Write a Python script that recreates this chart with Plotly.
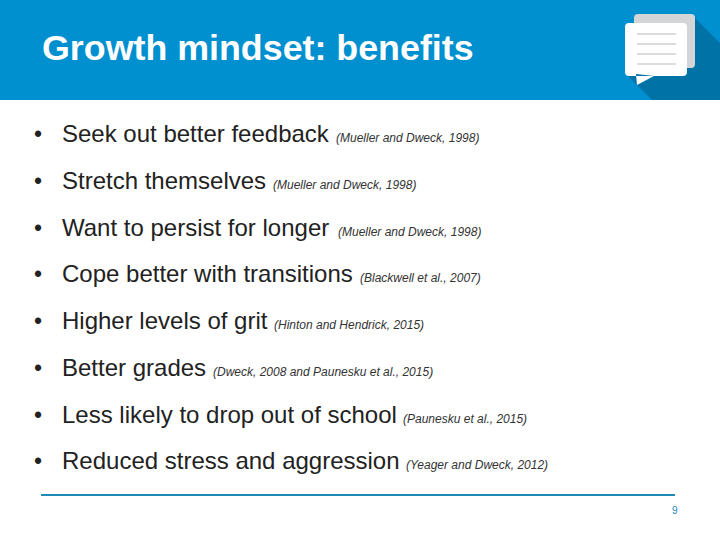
import plotly.graph_objects as go

TITLE = "Growth mindset: benefits"
BULLETS = ["Seek out better feedback", "Stretch themselves", "Want to persist for longer",
           "Cope better with transitions", "Higher levels of grit", "Better grades",
           "Less likely to drop out of school", "Reduced stress and aggression"]
CITES = ["(Mueller and Dweck, 1998)", "(Mueller and Dweck, 1998)", "(Mueller and Dweck, 1998)",
         "(Blackwell et al., 2007)", "(Hinton and Hendrick, 2015)", "(Dweck, 2008 and Paunesku et al., 2015)",
         "(Paunesku et al., 2015)", "(Yeager and Dweck, 2012)"]
CITE_X = [336, 273, 338, 360, 274, 213, 403, 406]
ROW_Y = [133, 180, 227, 273, 320, 367, 414, 460]
PAGE = "9"

FONT = "Liberation Sans, Arial, sans-serif"
fig = go.Figure()
xa = dict(range=[0, 720], visible=False, fixedrange=True)
ya = dict(range=[540, 0], visible=False, fixedrange=True)


def rrect(x0, y0, x1, y1, r):
    return (f"M{x0+r},{y0} L{x1-r},{y0} Q{x1},{y0} {x1},{y0+r} L{x1},{y1-r} Q{x1},{y1} {x1-r},{y1} "
            f"L{x0+r},{y1} Q{x0},{y1} {x0},{y1-r} L{x0},{y0+r} Q{x0},{y0} {x0+r},{y0} Z")


shapes = [
    dict(type="rect", x0=0, y0=0, x1=720, y1=100, fillcolor="#0090D0", line_width=0),
    dict(type="path", path="M692,15 L720,43 L720,100 L652,100 L627,75 Z", fillcolor="#0072A6", line_width=0),
    dict(type="path", path=rrect(634, 14, 695, 68, 4), fillcolor="#D4D5D7", line_width=0),
    dict(type="path", path=rrect(625, 23, 687, 76, 4) + " M636,74 L637,85 L654,76 Z", fillcolor="#FFFFFF", line_width=0),
    dict(type="line", x0=41, x1=675, y0=495, y1=495, line=dict(color="#2089B8", width=2)),
]
for y in (34, 44, 54, 64):
    shapes.append(dict(type="line", x0=637, x1=676, y0=y, y1=y, line=dict(color="#CFD0D2", width=1.5)))

ann = [dict(x=42, y=48, text=f"<b>{TITLE}</b>", xanchor="left", yanchor="middle", showarrow=False,
            font=dict(family=FONT, size=35.8, color="#FFFFFF"))]
for b, c, cx, y in zip(BULLETS, CITES, CITE_X, ROW_Y):
    ann.append(dict(x=34, y=y + 1, text="•", xanchor="left", yanchor="middle", showarrow=False,
                    font=dict(family=FONT, size=23, color="#222222")))
    ann.append(dict(x=62, y=y, text=b, xanchor="left", yanchor="middle", showarrow=False,
                    font=dict(family=FONT, size=24, color="#222222")))
    ann.append(dict(x=cx, y=y + 4.5, text=f"<i>{c}</i>", xanchor="left", yanchor="middle", showarrow=False,
                    font=dict(family=FONT, size=12, color="#333333")))
ann.append(dict(x=675, y=510, text=PAGE, xanchor="center", yanchor="middle", showarrow=False,
                font=dict(family=FONT, size=10, color="#2089B8")))
for a in ann:
    a["borderpad"] = 0
    a["borderwidth"] = 0

fig.update_layout(width=720, height=540, margin=dict(l=0, r=0, t=0, b=0), paper_bgcolor="#FFFFFF",
                  plot_bgcolor="#FFFFFF", xaxis=xa, yaxis=ya, shapes=shapes, annotations=ann, showlegend=False)
fig.write_html("out.html", config=dict(displayModeBar=False),
               post_script="document.body.style.margin='0';document.body.style.overflow='hidden';")
